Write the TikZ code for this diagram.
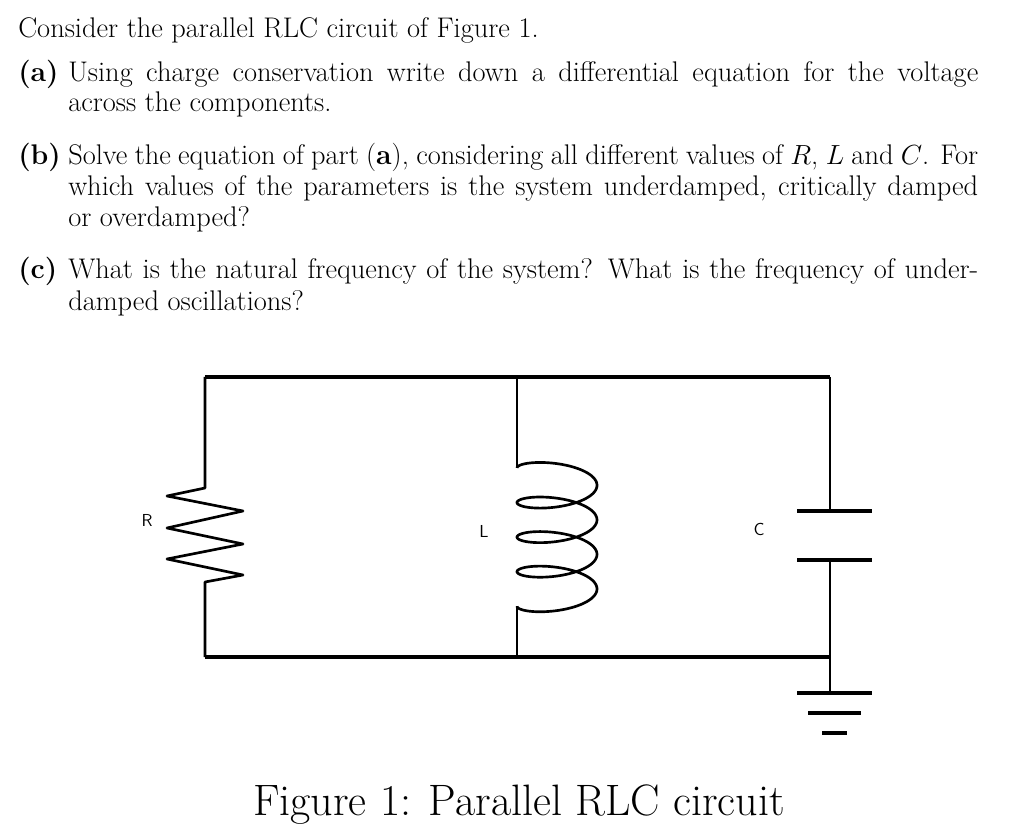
\documentclass[tikz,border=0pt]{standalone}
\begin{document}
\begin{tikzpicture}[x=0.75pt,y=-0.75pt,
  txt/.style={anchor=base west,inner sep=0pt,font=\fontsize{21.3}{25}\selectfont},
  lab/.style={anchor=base west,inner sep=0pt,font=\fontsize{21.3}{25}\selectfont\bfseries},
  wire/.style={line width=2pt},
  thick wire/.style={line width=3pt},
  clab/.style={font=\sffamily\fontsize{13}{15}\selectfont,inner sep=0pt}]
\useasboundingbox (0,0) rectangle (1024,837);
\def\W{910}
\node[txt] (t0) at (18,38) {Consider the parallel RLC circuit of Figure 1.};
\node[lab] (la) at (18,82) {(a)};
\node[txt] (a1) at (68,82) {\makebox[\W\dimexpr0.75pt][s]{Using charge conservation write down a differential equation for the voltage}};
\node[txt] (a2) at (68,112) {across the components.};
\node[lab] (lb) at (18,165) {(b)};
\node[txt] (b1) at (68,165) {\makebox[\W\dimexpr0.75pt][s]{Solve the equation of part (\textbf{a}), considering all different values of $R$, $L$ and $C$. For}};
\node[txt] (b2) at (68,196) {\makebox[\W\dimexpr0.75pt][s]{which values of the parameters is the system underdamped, critically damped}};
\node[txt] (b3) at (68,227) {or overdamped?};
\node[lab] (lc) at (18,279) {(c)};
\node[txt] (c1) at (68,279) {\makebox[\W\dimexpr0.75pt][s]{What is the natural frequency of the system? What is the frequency of under-}};
\node[txt] (c2) at (68,311) {damped oscillations?};
% circuit
\coordinate (tl) at (205,377); \coordinate (tm) at (517,377); \coordinate (tr) at (830,377);
\coordinate (bl) at (205,657); \coordinate (bm) at (517,657); \coordinate (br) at (830,657);
\draw[thick wire] (tl) -- (tr);
\draw[thick wire] (bl) -- (br);
% resistor
\draw[wire,line join=round] (tl) -- (205,488) -- (167,496) -- (243,511) -- (167,528) -- (243,544) -- (167,559) -- (243,575) -- (205,582) -- (bl);
\node[clab] (R) at (147,520) {R};
% inductor
\draw[wire] (tm) -- (517,468);
\draw[wire] plot[domain=0:8*pi,samples=300,smooth,variable=\t] ({557-40*cos(\t r)},{468+5.5*\t-13*sin(\t r)});
\draw[wire] (517,606) -- (bm);
\node[clab] (L) at (484,531) {L};
% capacitor
\draw[wire] (tr) -- (830,511);
\draw[thick wire] (797,511) -- (872,511);
\draw[thick wire] (797,560) -- (872,560);
\draw[wire] (830,560) -- (br) -- (830,693);
\node[clab] (C) at (759,529) {C};
\draw[thick wire] (797,693) -- (872,693);
\draw[thick wire] (808,713) -- (861,713);
\draw[thick wire] (822,733) -- (847,733);
\node[anchor=base,inner sep=0pt,font=\fontsize{33}{38}\selectfont] (cap) at (519,815) {Figure 1: Parallel RLC circuit};
\end{tikzpicture}
\end{document}
